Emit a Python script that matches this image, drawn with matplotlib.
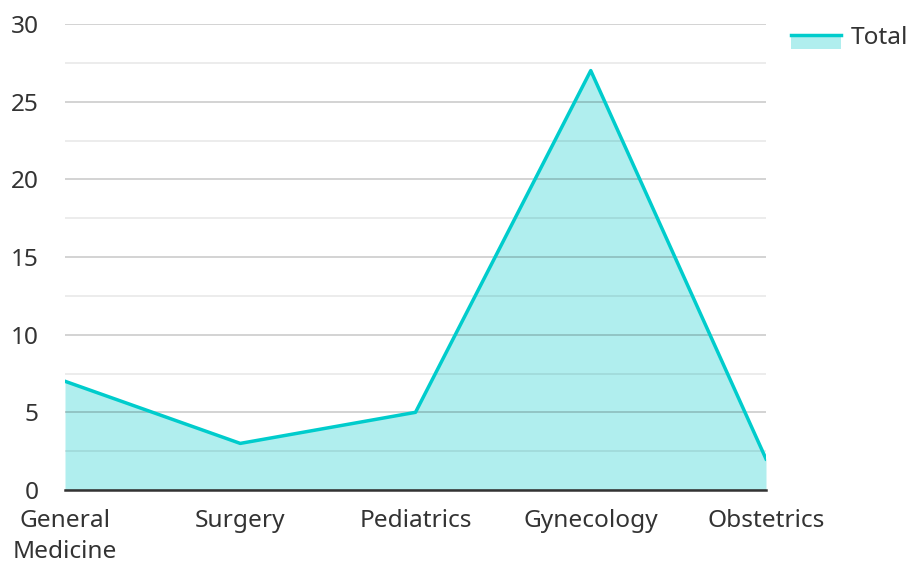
import matplotlib.pyplot as plt
from matplotlib.patches import Rectangle
from matplotlib.lines import Line2D

plt.rcParams['font.family'] = ['Noto Sans', 'DejaVu Sans']

categories = ['General\nMedicine', 'Surgery', 'Pediatrics', 'Gynecology', 'Obstetrics']
totals = [7, 3, 5, 27, 2]
y_ticks = [0, 5, 10, 15, 20, 25, 30]

line_color = '#00cccc'
fill_color = '#b0eeee'
fs = 17.6


class FillLineHandler:
    def legend_artist(self, legend, orig_handle, fontsize, handlebox):
        x0, y0 = handlebox.xdescent, handlebox.ydescent
        w, h = handlebox.width, handlebox.height
        tr = handlebox.get_transform()
        rect = Rectangle((x0, y0 - 3), w, h, facecolor=fill_color, edgecolor='none', transform=tr)
        line = Line2D([x0, x0 + w], [y0 + h - 3, y0 + h - 3], color=line_color, lw=2.5, transform=tr)
        handlebox.add_artist(rect)
        handlebox.add_artist(line)
        return rect


dpi = 100
fig = plt.figure(figsize=(907 / dpi, 563 / dpi), dpi=dpi)
ax = fig.add_axes([65 / 907, 73 / 563, 701 / 907, 466 / 563])

x = list(range(len(categories)))
ax.fill_between(x, totals, 0, color=fill_color, lw=0, zorder=1)
ax.plot(x, totals, color=line_color, lw=2.5, zorder=3)

ax.set_xlim(0, len(categories) - 1)
ax.set_ylim(0, 30)
ax.set_yticks(y_ticks)
ax.set_yticks([2.5, 7.5, 12.5, 17.5, 22.5, 27.5], minor=True)
ax.set_xticks(x)
ax.set_xticklabels(categories, linespacing=1.38)

# grid drawn over the fill, semi-transparent like the original
ax.grid(axis='y', which='major', color='black', alpha=0.2, lw=1.2, zorder=2)
ax.grid(axis='y', which='minor', color='black', alpha=0.09, lw=1.2, zorder=2)
ax.set_axisbelow(False)

for s in ['top', 'right', 'left']:
    ax.spines[s].set_visible(False)
ax.spines['bottom'].set_color('#333333')
ax.spines['bottom'].set_linewidth(1.8)
ax.spines['bottom'].set_zorder(4)

ax.tick_params(axis='both', which='both', length=0, labelsize=fs, labelcolor='#333333')
ax.tick_params(axis='y', pad=19)
ax.tick_params(axis='x', pad=14)

handle = Rectangle((0, 0), 1, 1)
fig.legend([handle], ['Total'], handler_map={Rectangle: FillLineHandler()},
           loc='upper left', bbox_to_anchor=(791 / 907, 1 - 26 / 563),
           frameon=False, fontsize=fs, handlelength=2.05, handleheight=0.55,
           handletextpad=0.4, borderpad=0, borderaxespad=0, labelcolor='#333333')

fig.savefig('out.png', dpi=dpi)
